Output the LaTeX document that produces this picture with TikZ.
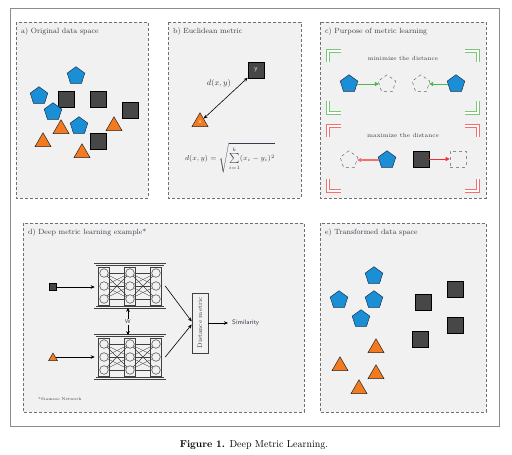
\documentclass[tikz,border=0pt]{standalone}
\usetikzlibrary{shapes.geometric,arrows.meta}
\definecolor{panelbg}{HTML}{F1F1F1}
\definecolor{panelline}{HTML}{707070}
\definecolor{bluefill}{HTML}{1B8FD6}
\definecolor{blueline}{HTML}{1A3050}
\definecolor{orangefill}{HTML}{F47A1F}
\definecolor{sqfill}{HTML}{474747}
\definecolor{greenc}{HTML}{4CB84C}
\definecolor{greenl}{HTML}{78C878}
\definecolor{redc}{HTML}{F03030}
\definecolor{redl}{HTML}{F47070}
\definecolor{textc}{HTML}{3A3A4A}
\begin{document}
\begin{tikzpicture}[x=1pt,y=-1pt,
  panel/.style={fill=panelbg,draw=panelline,line width=0.8pt,dash pattern=on 3pt off 2pt},
  title/.style={anchor=west,inner sep=0pt,text=textc,font=\fontsize{7.5}{9}\selectfont},
  pent/.style={regular polygon,regular polygon sides=5,minimum size=18.5pt,inner sep=0pt,fill=bluefill,draw=blueline,line width=0.5pt},
  dpent/.style={regular polygon,regular polygon sides=5,minimum size=18.5pt,inner sep=0pt,draw=black!60,dashed,line width=0.5pt},
  tri/.style={regular polygon,regular polygon sides=3,minimum size=18.5pt,inner sep=0pt,fill=orangefill,draw=black!85,line width=0.5pt},
  sq/.style={rectangle,minimum size=16pt,inner sep=0pt,fill=sqfill,draw=black,line width=0.6pt},
  dsq/.style={rectangle,minimum size=16pt,inner sep=0pt,draw=black!45,dashed,line width=0.6pt},
  brouter/.style={line width=3.2pt,line join=miter,line cap=butt},
  brinner/.style={draw=white,line width=1.2pt,line join=miter,line cap=butt},
  arr/.style={-{Stealth[length=4pt,width=3.5pt]},line width=0.6pt},
  darr/.style={{Stealth[length=4pt,width=3.5pt]}-{Stealth[length=4pt,width=3.5pt]},line width=0.6pt},
  garr/.style={-{Triangle[length=4pt,width=4pt]},draw=greenc,line width=0.6pt},
  rarr/.style={-{Triangle[length=4pt,width=4pt]},draw=redc,line width=0.6pt},
  netbox/.style={draw=black!75,double=panelbg,double distance=1.3pt,line width=0.5pt,minimum width=70pt,minimum height=43pt,inner sep=0pt},
  colbox/.style={draw=black!75,line width=0.5pt,minimum width=11pt,minimum height=38pt,inner sep=0pt},
  neuron/.style={circle,draw=black!75,fill=panelbg,line width=0.5pt,minimum size=8.6pt,inner sep=0pt},
  small/.style={font=\fontsize{6}{7}\selectfont,text=textc,inner sep=0pt}
]
\fill[white] (0,0) rectangle (512,455);
\useasboundingbox (0,0) rectangle (512,455);
\draw[black!45,line width=0.6pt] (10,8) rectangle (499,426);

% panels
\draw[panel] (16,22) rectangle (148,198);
\draw[panel] (168,22) rectangle (301,198);
\draw[panel] (320,22) rectangle (486,198);
\draw[panel] (23,223) rectangle (304,412);
\draw[panel] (320,223) rectangle (486,412);

\node[title] (ta) at (21,32) {a) Original data space};
\node[title] (tb) at (173,32) {b) Euclidean metric};
\node[title] (tc) at (325,32) {c) Purpose of metric learning};
\node[title] (td) at (28,233) {d) Deep metric learning example*};
\node[title] (te) at (325,233) {e) Transformed data space};

% panel a
\node[pent] (a1) at (76,76) {};
\node[pent] (a2) at (39,96) {};
\node[sq] (a3) at (66,99) {};
\node[sq] (a4) at (98,99) {};
\node[pent] (a5) at (53,112) {};
\node[sq] (a6) at (130,110) {};
\node[tri] (a7) at (61,129) {};
\node[pent] (a8) at (79,126) {};
\node[tri] (a9) at (114,126) {};
\node[tri] (a10) at (43,142) {};
\node[sq] (a11) at (98,141) {};
\node[tri] (a12) at (82,153) {};

% panel b
\node[sq,text=white,font=\fontsize{6.5}{7}\selectfont\sffamily] (by) at (256,70) {y};
\node[tri,text=white,font=\fontsize{6}{7}\selectfont\sffamily] (bx) at (200,122) {x};
\draw[darr] (bx) -- (by);
\node[text=textc,font=\fontsize{8}{9}\selectfont,inner sep=0pt] (dxy) at (219,83) {$d(x,y)$};
\node[text=textc,font=\fontsize{7.5}{9}\selectfont,inner sep=0pt] (form) at (230,158) {$d(x,y)=\sqrt{\sum\limits_{i=1}^{k}(x_i-y_i)^2}$};

% panel c : corner brackets
\foreach \col/\ya/\yb in {greenl/51/113, redl/126/191} {
  \draw[brouter,draw=\col] (341,\ya) -- (328,\ya) -- (328,\ya+11);
  \draw[brinner] (341,\ya) -- (328,\ya) -- (328,\ya+11);
  \draw[brouter,draw=\col] (465,\ya) -- (478,\ya) -- (478,\ya+11);
  \draw[brinner] (465,\ya) -- (478,\ya) -- (478,\ya+11);
  \draw[brouter,draw=\col] (328,\yb-12) -- (328,\yb) -- (341,\yb);
  \draw[brinner] (328,\yb-12) -- (328,\yb) -- (341,\yb);
  \draw[brouter,draw=\col] (478,\yb-12) -- (478,\yb) -- (465,\yb);
  \draw[brinner] (478,\yb-12) -- (478,\yb) -- (465,\yb);
}
\node[small] (mint) at (403,58) {minimize the distance};
\node[small] (maxt) at (403,135) {maximize the distance};
\node[pent] (c1) at (349,84) {};
\node[dpent] (c2) at (387,84) {};
\node[dpent] (c3) at (421,84) {};
\node[pent] (c4) at (456,84) {};
\draw[garr] (c1) -- (c2);
\draw[garr] (c4) -- (c3);
\node[dpent] (c5) at (349,160) {};
\node[pent] (c6) at (387,160) {};
\node[sq] (c7) at (421,159) {};
\node[dsq] (c8) at (458,159) {};
\draw[rarr,draw=redl,line width=1.2pt] (c6) -- (c5);
\draw[rarr] (c7) -- (c8);

% panel d
\foreach \p/\cy in {t/286,b/357} {
  \node[netbox] (box\p) at (130,\cy) {};
  \foreach \c/\cx in {1/104,2/130,3/156} {
    \node[colbox] (col\p\c) at (\cx,\cy) {};
    \foreach \r/\dy in {1/-13,2/0,3/13}
      \node[neuron] (\p\c\r) at ({\cx},{\cy+(\dy)}) {};
  }
  \foreach \i in {1,2,3} \foreach \j in {1,2,3} {
    \draw[black!75,line width=0.4pt] (\p1\i) -- (\p2\j);
    \draw[black!75,line width=0.4pt] (\p2\i) -- (\p3\j);
  }
}
\node[sq,minimum size=7.5pt] (insq) at (53,287) {};
\node[tri,minimum size=10pt] (intri) at (53,358) {};
\draw[arr] (insq) -- (boxt.west |- insq);
\draw[arr] (intri.east |- 0,357) -- (boxb.west |- 0,357);
\draw[darr] (boxt.south -| 128,0) -- (boxb.north -| 128,0);
\node[fill=panelbg,inner sep=0.6pt,font=\fontsize{5.5}{6}\selectfont\sffamily,text=blueline] (w) at (128,322) {W};
\node[draw=black!75,fill=panelbg,line width=0.6pt,rotate=90,minimum width=60pt,minimum height=16pt,inner sep=0pt,font=\fontsize{6.5}{7}\selectfont,text=textc] (dist) at (200,323) {Distance metric};
\draw[arr] (boxt.east) -- ([yshift=1.5pt]dist.north);
\draw[arr] (boxb.east) -- ([yshift=-1.5pt]dist.north);
\node[anchor=west,inner sep=0pt,font=\fontsize{6.5}{7}\selectfont\sffamily,text=textc] (sim) at (232,323) {Similarity};
\draw[arr] (dist.south) -- ([xshift=-4pt]sim.west);
\node[anchor=west,inner sep=0pt,font=\fontsize{4}{5}\selectfont,text=textc] (siam) at (38,399) {*Siamese Network};

% panel e
\node[pent] (e1) at (374,276) {};
\node[pent] (e2) at (339,300) {};
\node[pent] (e3) at (374,300) {};
\node[pent] (e4) at (361,319) {};
\node[sq] (e5) at (455,289) {};
\node[sq] (e6) at (423,302) {};
\node[sq] (e7) at (455,325) {};
\node[sq] (e8) at (420,339) {};
\node[tri] (e9) at (376,348) {};
\node[tri] (e10) at (340,366) {};
\node[tri] (e11) at (376,374) {};
\node[tri] (e12) at (359,389) {};

% caption
\node[inner sep=0pt,font=\fontsize{10}{12}\selectfont,text=black] (cap) at (254,445) {\textbf{Figure 1.} Deep Metric Learning.};
\end{tikzpicture}
\end{document}
